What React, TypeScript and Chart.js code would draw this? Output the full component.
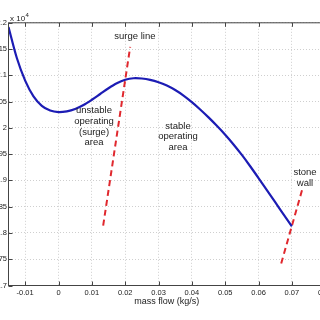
import { useEffect, useRef } from "react";
import { Chart, registerables } from "chart.js";

Chart.register(...registerables);

// Compressor characteristic: pressure vs mass flow
const massFlow = [
  -0.015, -0.0125, -0.01, -0.0075, -0.005, -0.0025, 0.0, 0.0025, 0.005, 0.0075, 0.01, 0.0125,
  0.015, 0.0175, 0.02, 0.0225, 0.025, 0.0275, 0.03, 0.0325, 0.035, 0.0375, 0.04, 0.0425,
  0.045, 0.0475, 0.05, 0.0525, 0.055, 0.0575, 0.06, 0.0625, 0.065, 0.0675, 0.07,
];
const pressure = [
  21920, 21330, 20900, 20600, 20420, 20330, 20300, 20315, 20360, 20435, 20535, 20645,
  20755, 20850, 20915, 20945, 20940, 20915, 20870, 20805, 20720, 20615, 20490, 20350,
  20200, 20040, 19870, 19685, 19485, 19270, 19045, 18815, 18585, 18355, 18125,
];

// Surge line and stone wall (dashed limits)
const surgeX = [0.0134, 0.0215];
const surgeY = [18140, 21540];
const stoneX = [0.0668, 0.0733];
const stoneY = [17420, 18870];

const xTicks = [-0.01, 0, 0.01, 0.02, 0.03, 0.04, 0.05, 0.06, 0.07, 0.08];
const xTickLabels = ["-0.01", "0", "0.01", "0.02", "0.03", "0.04", "0.05", "0.06", "0.07", "0.08"];
const yTicks = [17000, 17500, 18000, 18500, 19000, 19500, 20000, 20500, 21000, 21500, 22000];
const yTickLabels = ["1.7", "1.75", "1.8", "1.85", "1.9", "1.95", "2", "2.05", "2.1", "2.15", "2.2"];

const xLabel = "mass flow (kg/s)";

const notes = [
  { lines: ["surge line"], x: 0.0229, y: 21736 },
  { lines: ["unstable", "operating", "(surge)", "area"], x: 0.01065, y: 20333 },
  { lines: ["stable", "operating", "area"], x: 0.03585, y: 20038 },
  { lines: ["stone", "wall"], x: 0.07395, y: 19150 },
];

const FONT = "'Liberation Sans', Arial, Helvetica, sans-serif";

const pairs = (xs: number[], ys: number[]) => xs.map((x, i) => ({ x, y: ys[i] }));

const framePlugin = {
  id: "frame",
  afterDatasetsDraw(chart: any) {
    const { ctx, chartArea: a, scales } = chart;
    const xs = scales.x;
    const ys = scales.y;
    ctx.save();

    // annotation text
    ctx.fillStyle = "#222";
    ctx.font = `9.5px ${FONT}`;
    ctx.textAlign = "center";
    ctx.textBaseline = "middle";
    notes.forEach((n) => {
      const px = xs.getPixelForValue(n.x);
      const py = ys.getPixelForValue(n.y);
      n.lines.forEach((t, i) => ctx.fillText(t, px, py + i * 10.8));
    });

    // axes box
    ctx.strokeStyle = "#444";
    ctx.lineWidth = 1;
    ctx.strokeRect(a.left, a.top, a.right - a.left, a.bottom - a.top);

    // inward tick marks on all sides
    const len = 4;
    ctx.beginPath();
    xTicks.forEach((v) => {
      const px = Math.round(xs.getPixelForValue(v)) + 0.5;
      ctx.moveTo(px, a.bottom);
      ctx.lineTo(px, a.bottom - len);
      ctx.moveTo(px, a.top);
      ctx.lineTo(px, a.top + len);
    });
    yTicks.forEach((v) => {
      const py = Math.round(ys.getPixelForValue(v)) + 0.5;
      ctx.moveTo(a.left, py);
      ctx.lineTo(a.left + len, py);
      ctx.moveTo(a.right, py);
      ctx.lineTo(a.right - len, py);
    });
    ctx.stroke();

    // axis label
    ctx.fillStyle = "#222";
    ctx.font = `9px ${FONT}`;
    ctx.textAlign = "center";
    ctx.textBaseline = "middle";
    ctx.fillText(xLabel, (a.left + a.right) / 2, 301.5);

    // exponent of the y axis
    ctx.textAlign = "left";
    ctx.textBaseline = "alphabetic";
    ctx.font = `8px ${FONT}`;
    const base = "x 10";
    ctx.fillText(base, a.left + 1.5, 20.5);
    const w = ctx.measureText(base).width;
    ctx.font = `6px ${FONT}`;
    ctx.fillText("4", a.left + 2 + w, 16.5);

    ctx.restore();
  },
};

export default function App() {
  const ref = useRef<HTMLCanvasElement | null>(null);

  useEffect(() => {
    if (!ref.current) return;
    const tickFont = { family: FONT, size: 7.5 };
    const chart = new Chart(ref.current, {
      type: "line",
      data: {
        datasets: [
          {
            data: pairs(massFlow, pressure),
            borderColor: "#1c1cb4",
            borderWidth: 2.2,
            pointRadius: 0,
            tension: 0.3,
            fill: false,
          },
          {
            data: pairs(surgeX, surgeY),
            borderColor: "#e0282e",
            borderWidth: 2,
            borderDash: [6, 4],
            pointRadius: 0,
            fill: false,
          },
          {
            data: pairs(stoneX, stoneY),
            borderColor: "#e0282e",
            borderWidth: 2,
            borderDash: [6, 4],
            pointRadius: 0,
            fill: false,
          },
        ],
      },
      options: {
        responsive: false,
        animation: false,
        layout: { padding: { top: 22.8, right: 14.8, bottom: 0, left: 0 } },
        plugins: { legend: { display: false }, tooltip: { enabled: false } },
        scales: {
          x: {
            type: "linear",
            min: -0.015,
            max: 0.08,
            afterBuildTicks: (s: any) => {
              s.ticks = xTicks.map((v) => ({ value: v }));
            },
            afterFit: (s: any) => {
              s.height = 34.5;
              s.paddingLeft = 0;
              s.paddingRight = 0;
            },
            ticks: {
              autoSkip: false,
              maxRotation: 0,
              padding: 2.5,
              color: "#222",
              font: tickFont,
              callback: (v: any) => {
                const i = xTicks.findIndex((t) => Math.abs(t - Number(v)) < 1e-9);
                return i >= 0 ? xTickLabels[i] : "";
              },
            },
            grid: { color: "#cfcfcf", lineWidth: 1, drawTicks: false },
            border: { display: false, dash: [1, 2] },
          },
          y: {
            type: "linear",
            min: 17000,
            max: 22000,
            afterBuildTicks: (s: any) => {
              s.ticks = yTicks.map((v) => ({ value: v }));
            },
            afterFit: (s: any) => {
              s.width = 39.5;
              s.paddingTop = 0;
              s.paddingBottom = 0;
            },
            ticks: {
              autoSkip: false,
              padding: 1.5,
              color: "#222",
              font: tickFont,
              callback: (v: any) => {
                const i = yTicks.findIndex((t) => Math.abs(t - Number(v)) < 1e-6);
                return i >= 0 ? yTickLabels[i] : "";
              },
            },
            grid: { color: "#cfcfcf", lineWidth: 1, drawTicks: false },
            border: { display: false, dash: [1, 2] },
          },
        },
      },
      plugins: [framePlugin],
    } as any);
    return () => chart.destroy();
  }, []);

  return (
    <div
      style={{
        position: "fixed",
        left: 0,
        top: 0,
        width: 320,
        height: 320,
        overflow: "hidden",
        background: "#fff",
      }}
    >
      <canvas
        ref={ref}
        width={371}
        height={320}
        style={{ position: "absolute", left: -31, top: 0, display: "block" }}
      />
    </div>
  );
}
